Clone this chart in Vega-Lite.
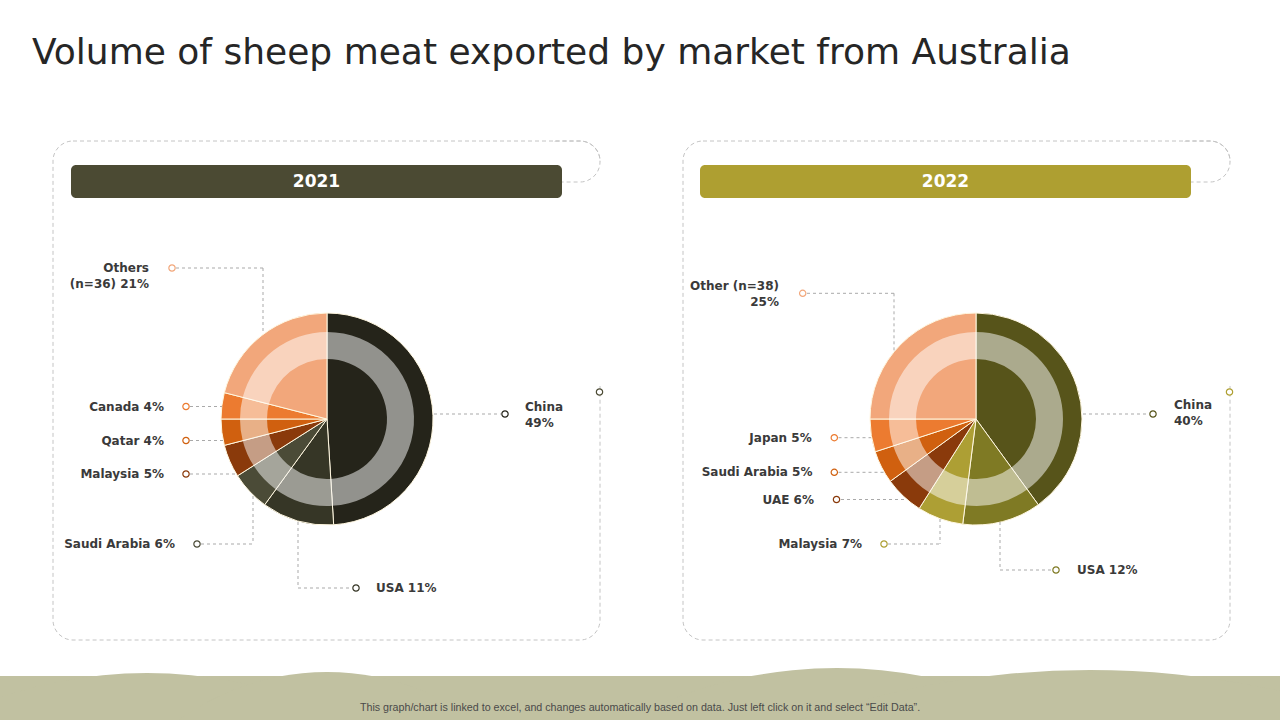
{
  "$schema": "https://vega.github.io/schema/vega-lite/v6.json",
  "width": 1280,
  "height": 720,
  "autosize": {"type": "none"},
  "padding": 0,
  "background": "white",
  "config": {
    "view": {"stroke": null},
    "text": {"font": "DejaVu Sans", "fontWeight": "bold", "fontSize": 12, "fill": "#3a3a3a", "lineBreak": "\n", "lineHeight": 16, "baseline": "middle"},
    "rule": {"stroke": "#a9a9a9", "strokeDash": [3, 3], "strokeWidth": 1},
    "point": {"shape": "circle", "filled": true, "fill": "white", "size": 40, "strokeWidth": 1.2, "opacity": 1}
  },
  "datasets": {
    "shares": [
      {"year": 2021, "market": "China", "share": 49, "rank": 1, "label": "China\n49%"},
      {"year": 2021, "market": "USA", "share": 11, "rank": 2, "label": "USA 11%"},
      {"year": 2021, "market": "Saudi Arabia", "share": 6, "rank": 3, "label": "Saudi Arabia 6%"},
      {"year": 2021, "market": "Malaysia", "share": 5, "rank": 4, "label": "Malaysia 5%"},
      {"year": 2021, "market": "Qatar", "share": 4, "rank": 5, "label": "Qatar 4%"},
      {"year": 2021, "market": "Canada", "share": 4, "rank": 6, "label": "Canada 4%"},
      {"year": 2021, "market": "Others (n=36)", "share": 21, "rank": 7, "label": "Others\n(n=36) 21%"},
      {"year": 2022, "market": "China", "share": 40, "rank": 1, "label": "China\n40%"},
      {"year": 2022, "market": "USA", "share": 12, "rank": 2, "label": "USA 12%"},
      {"year": 2022, "market": "Malaysia", "share": 7, "rank": 3, "label": "Malaysia 7%"},
      {"year": 2022, "market": "UAE", "share": 6, "rank": 4, "label": "UAE 6%"},
      {"year": 2022, "market": "Saudi Arabia", "share": 5, "rank": 5, "label": "Saudi Arabia 5%"},
      {"year": 2022, "market": "Japan", "share": 5, "rank": 6, "label": "Japan 5%"},
      {"year": 2022, "market": "Other (n=38)", "share": 25, "rank": 7, "label": "Other (n=38)\n25%"}
    ]
  },
  "data": {"name": "shares"},
  "resolve": {"scale": {"color": "independent", "theta": "independent"}},
  "layer": [
    {"data": {"values": [{}]}, "mark": {"type": "rect", "fill": "#c1c1a1"}, "encoding": {"x": {"value": 0}, "x2": {"value": 1280}, "y": {"value": 676}, "y2": {"value": 720}}},
    {"data": {"values": [{}]}, "mark": {"type": "arc", "x": 147, "y": 1125, "outerRadius": 452, "fill": "#c1c1a1"}, "encoding": {}},
    {"data": {"values": [{}]}, "mark": {"type": "arc", "x": 327, "y": 924.5, "outerRadius": 252.5, "fill": "#c1c1a1"}, "encoding": {}},
    {"data": {"values": [{}]}, "mark": {"type": "arc", "x": 837, "y": 1122.5, "outerRadius": 454.5, "fill": "#c1c1a1"}, "encoding": {}},
    {"data": {"values": [{}]}, "mark": {"type": "arc", "x": 1090, "y": 1537.8, "outerRadius": 867.8, "fill": "#c1c1a1"}, "encoding": {}},
    {"data": {"values": [{}]}, "mark": {"type": "text", "text": "This graph/chart is linked to excel, and changes automatically based on data. Just left click on it and select “Edit Data”.", "font": "Liberation Sans", "fontWeight": "normal", "fontSize": 10.7, "fill": "#4a4a4a", "align": "center", "baseline": "middle"}, "encoding": {"x": {"value": 640}, "y": {"value": 708}}},
    {"data": {"values": [{}]}, "mark": {"type": "text", "text": "Volume of sheep meat exported by market from Australia", "font": "DejaVu Sans", "fontWeight": "normal", "fontSize": 36, "fill": "#262626", "align": "left", "baseline": "alphabetic"}, "encoding": {"x": {"value": 32}, "y": {"value": 64}}},

    {"data": {"values": [{}]}, "mark": {"type": "rect", "fill": "white", "fillOpacity": 0, "stroke": "#c4c4c4", "strokeDash": [4, 3], "strokeWidth": 1, "cornerRadius": 20}, "encoding": {"x": {"value": 53}, "x2": {"value": 600}, "y": {"value": 141}, "y2": {"value": 640}}},
    {"data": {"values": [{}]}, "mark": {"type": "rect", "fill": "white", "strokeWidth": 0}, "encoding": {"x": {"value": 594}, "x2": {"value": 607}, "y": {"value": 162}, "y2": {"value": 386}}},
    {"data": {"values": [{}]}, "mark": {"type": "rect", "fill": "white", "fillOpacity": 0, "stroke": "#c4c4c4", "strokeDash": [4, 3], "strokeWidth": 1, "cornerRadiusTopRight": 20, "cornerRadiusBottomRight": 20}, "encoding": {"x": {"value": 555}, "x2": {"value": 600}, "y": {"value": 141}, "y2": {"value": 182}}},
    {"data": {"values": [{}]}, "mark": {"type": "rect", "fill": "white", "strokeWidth": 0}, "encoding": {"x": {"value": 552}, "x2": {"value": 558}, "y": {"value": 142.6}, "y2": {"value": 164}}},
    {"data": {"values": [{}]}, "mark": {"type": "rect", "fill": "#4b4a33", "cornerRadius": 5}, "encoding": {"x": {"value": 71}, "x2": {"value": 562}, "y": {"value": 165}, "y2": {"value": 198}}},
    {"data": {"values": [{}]}, "mark": {"type": "text", "text": "2021", "fontSize": 17, "fill": "white", "align": "center"}, "encoding": {"x": {"value": 316.5}, "y": {"value": 182}}},
    {"data": {"values": [{}]}, "mark": {"type": "point", "stroke": "#4b4a33"}, "encoding": {"x": {"value": 599.5}, "y": {"value": 392}}},

    {"data": {"values": [{}]}, "mark": {"type": "rect", "fill": "white", "fillOpacity": 0, "stroke": "#c4c4c4", "strokeDash": [4, 3], "strokeWidth": 1, "cornerRadius": 20}, "encoding": {"x": {"value": 683}, "x2": {"value": 1230}, "y": {"value": 141}, "y2": {"value": 640}}},
    {"data": {"values": [{}]}, "mark": {"type": "rect", "fill": "white", "strokeWidth": 0}, "encoding": {"x": {"value": 1224}, "x2": {"value": 1237}, "y": {"value": 162}, "y2": {"value": 386}}},
    {"data": {"values": [{}]}, "mark": {"type": "rect", "fill": "white", "fillOpacity": 0, "stroke": "#c4c4c4", "strokeDash": [4, 3], "strokeWidth": 1, "cornerRadiusTopRight": 20, "cornerRadiusBottomRight": 20}, "encoding": {"x": {"value": 1185}, "x2": {"value": 1230}, "y": {"value": 141}, "y2": {"value": 182}}},
    {"data": {"values": [{}]}, "mark": {"type": "rect", "fill": "white", "strokeWidth": 0}, "encoding": {"x": {"value": 1182}, "x2": {"value": 1188}, "y": {"value": 142.6}, "y2": {"value": 164}}},
    {"data": {"values": [{}]}, "mark": {"type": "rect", "fill": "#ae9f31", "cornerRadius": 5}, "encoding": {"x": {"value": 700}, "x2": {"value": 1191}, "y": {"value": 165}, "y2": {"value": 198}}},
    {"data": {"values": [{}]}, "mark": {"type": "text", "text": "2022", "fontSize": 17, "fill": "white", "align": "center"}, "encoding": {"x": {"value": 945.5}, "y": {"value": 182}}},
    {"data": {"values": [{}]}, "mark": {"type": "point", "stroke": "#ae9f31"}, "encoding": {"x": {"value": 1229.5}, "y": {"value": 392}}},

    {"transform": [{"filter": "datum.year == 2021"}], "mark": {"type": "arc", "x": 327, "y": 419, "outerRadius": 106, "stroke": "#fff7e0", "strokeWidth": 1},
     "encoding": {"theta": {"field": "share", "type": "quantitative", "stack": true}, "order": {"field": "rank", "type": "quantitative"},
       "color": {"field": "market", "type": "nominal", "legend": null, "scale": {"domain": ["China", "USA", "Saudi Arabia", "Malaysia", "Qatar", "Canada", "Others (n=36)"], "range": ["#25241a", "#363626", "#4b4b37", "#8a3a0b", "#d0600f", "#ec7b30", "#f2a77b"]}}}},
    {"transform": [{"filter": "datum.year == 2021"}], "mark": {"type": "arc", "x": 327, "y": 419, "innerRadius": 60, "outerRadius": 87, "fill": "white", "fillOpacity": 0.5, "strokeWidth": 0},
     "encoding": {"theta": {"field": "share", "type": "quantitative", "stack": true}, "order": {"field": "rank", "type": "quantitative"}}},
    {"transform": [{"filter": "datum.year == 2022"}], "mark": {"type": "arc", "x": 976, "y": 419, "outerRadius": 106, "stroke": "#fff7e0", "strokeWidth": 1},
     "encoding": {"theta": {"field": "share", "type": "quantitative", "stack": true}, "order": {"field": "rank", "type": "quantitative"},
       "color": {"field": "market", "type": "nominal", "legend": null, "scale": {"domain": ["China", "USA", "Malaysia", "UAE", "Saudi Arabia", "Japan", "Other (n=38)"], "range": ["#57541a", "#7f7a24", "#ad9f34", "#8a3a0b", "#d0600f", "#ec7b30", "#f2a77b"]}}}},
    {"transform": [{"filter": "datum.year == 2022"}], "mark": {"type": "arc", "x": 976, "y": 419, "innerRadius": 60, "outerRadius": 87, "fill": "white", "fillOpacity": 0.5, "strokeWidth": 0},
     "encoding": {"theta": {"field": "share", "type": "quantitative", "stack": true}, "order": {"field": "rank", "type": "quantitative"}}},

    {"transform": [{"filter": "datum.year == 2021 && datum.market == 'China'"}], "layer": [
      {"mark": "rule", "encoding": {"x": {"value": 434}, "x2": {"value": 501}, "y": {"value": 414}}},
      {"mark": {"type": "point", "stroke": "#25241a"}, "encoding": {"x": {"value": 505}, "y": {"value": 414}}},
      {"mark": {"type": "text", "align": "left"}, "encoding": {"x": {"value": 525}, "y": {"value": 407}, "text": {"field": "label"}}}]},
    {"transform": [{"filter": "datum.year == 2021 && datum.market == 'USA'"}], "layer": [
      {"mark": "rule", "encoding": {"x": {"value": 298}, "x2": {"value": 352}, "y": {"value": 588}}},
      {"mark": "rule", "encoding": {"x": {"value": 298}, "y": {"value": 522}, "y2": {"value": 588}}},
      {"mark": {"type": "point", "stroke": "#363626"}, "encoding": {"x": {"value": 356}, "y": {"value": 588}}},
      {"mark": {"type": "text", "align": "left"}, "encoding": {"x": {"value": 376}, "y": {"value": 588}, "text": {"field": "label"}}}]},
    {"transform": [{"filter": "datum.year == 2021 && datum.market == 'Saudi Arabia'"}], "layer": [
      {"mark": "rule", "encoding": {"x": {"value": 201}, "x2": {"value": 253}, "y": {"value": 544}}},
      {"mark": "rule", "encoding": {"x": {"value": 253}, "y": {"value": 496}, "y2": {"value": 544}}},
      {"mark": {"type": "point", "stroke": "#4b4b37"}, "encoding": {"x": {"value": 197}, "y": {"value": 544}}},
      {"mark": {"type": "text", "align": "right"}, "encoding": {"x": {"value": 175}, "y": {"value": 544}, "text": {"field": "label"}}}]},
    {"transform": [{"filter": "datum.year == 2021 && datum.market == 'Malaysia'"}], "layer": [
      {"mark": "rule", "encoding": {"x": {"value": 190}, "x2": {"value": 236}, "y": {"value": 474}}},
      {"mark": {"type": "point", "stroke": "#8a3a0b"}, "encoding": {"x": {"value": 186}, "y": {"value": 474}}},
      {"mark": {"type": "text", "align": "right"}, "encoding": {"x": {"value": 164}, "y": {"value": 474}, "text": {"field": "label"}}}]},
    {"transform": [{"filter": "datum.year == 2021 && datum.market == 'Qatar'"}], "layer": [
      {"mark": "rule", "encoding": {"x": {"value": 190}, "x2": {"value": 223}, "y": {"value": 440.5}}},
      {"mark": {"type": "point", "stroke": "#d0600f"}, "encoding": {"x": {"value": 186}, "y": {"value": 440.5}}},
      {"mark": {"type": "text", "align": "right"}, "encoding": {"x": {"value": 164}, "y": {"value": 440.5}, "text": {"field": "label"}}}]},
    {"transform": [{"filter": "datum.year == 2021 && datum.market == 'Canada'"}], "layer": [
      {"mark": "rule", "encoding": {"x": {"value": 190}, "x2": {"value": 222}, "y": {"value": 406.5}}},
      {"mark": {"type": "point", "stroke": "#ec7b30"}, "encoding": {"x": {"value": 186}, "y": {"value": 406.5}}},
      {"mark": {"type": "text", "align": "right"}, "encoding": {"x": {"value": 164}, "y": {"value": 406.5}, "text": {"field": "label"}}}]},
    {"transform": [{"filter": "datum.year == 2021 && datum.market == 'Others (n=36)'"}], "layer": [
      {"mark": "rule", "encoding": {"x": {"value": 176}, "x2": {"value": 263}, "y": {"value": 268}}},
      {"mark": "rule", "encoding": {"x": {"value": 263}, "y": {"value": 268}, "y2": {"value": 334}}},
      {"mark": {"type": "point", "stroke": "#f2a77b"}, "encoding": {"x": {"value": 172}, "y": {"value": 268}}},
      {"mark": {"type": "text", "align": "right"}, "encoding": {"x": {"value": 149}, "y": {"value": 268}, "text": {"field": "label"}}}]},

    {"transform": [{"filter": "datum.year == 2022 && datum.market == 'China'"}], "layer": [
      {"mark": "rule", "encoding": {"x": {"value": 1083}, "x2": {"value": 1149}, "y": {"value": 414}}},
      {"mark": {"type": "point", "stroke": "#57541a"}, "encoding": {"x": {"value": 1153}, "y": {"value": 414}}},
      {"mark": {"type": "text", "align": "left"}, "encoding": {"x": {"value": 1174}, "y": {"value": 405}, "text": {"field": "label"}}}]},
    {"transform": [{"filter": "datum.year == 2022 && datum.market == 'USA'"}], "layer": [
      {"mark": "rule", "encoding": {"x": {"value": 1000}, "x2": {"value": 1052}, "y": {"value": 570}}},
      {"mark": "rule", "encoding": {"x": {"value": 1000}, "y": {"value": 522}, "y2": {"value": 570}}},
      {"mark": {"type": "point", "stroke": "#7f7a24"}, "encoding": {"x": {"value": 1056}, "y": {"value": 570}}},
      {"mark": {"type": "text", "align": "left"}, "encoding": {"x": {"value": 1077}, "y": {"value": 570}, "text": {"field": "label"}}}]},
    {"transform": [{"filter": "datum.year == 2022 && datum.market == 'Malaysia'"}], "layer": [
      {"mark": "rule", "encoding": {"x": {"value": 888}, "x2": {"value": 940}, "y": {"value": 544}}},
      {"mark": "rule", "encoding": {"x": {"value": 940}, "y": {"value": 519}, "y2": {"value": 544}}},
      {"mark": {"type": "point", "stroke": "#ad9f34"}, "encoding": {"x": {"value": 884}, "y": {"value": 544}}},
      {"mark": {"type": "text", "align": "right"}, "encoding": {"x": {"value": 862}, "y": {"value": 544}, "text": {"field": "label"}}}]},
    {"transform": [{"filter": "datum.year == 2022 && datum.market == 'UAE'"}], "layer": [
      {"mark": "rule", "encoding": {"x": {"value": 841}, "x2": {"value": 904}, "y": {"value": 499.5}}},
      {"mark": {"type": "point", "stroke": "#8a3a0b"}, "encoding": {"x": {"value": 836.5}, "y": {"value": 499.5}}},
      {"mark": {"type": "text", "align": "right"}, "encoding": {"x": {"value": 814}, "y": {"value": 499.5}, "text": {"field": "label"}}}]},
    {"transform": [{"filter": "datum.year == 2022 && datum.market == 'Saudi Arabia'"}], "layer": [
      {"mark": "rule", "encoding": {"x": {"value": 838.5}, "x2": {"value": 884}, "y": {"value": 472.3}}},
      {"mark": {"type": "point", "stroke": "#d0600f"}, "encoding": {"x": {"value": 834.3}, "y": {"value": 472.3}}},
      {"mark": {"type": "text", "align": "right"}, "encoding": {"x": {"value": 812.5}, "y": {"value": 472.3}, "text": {"field": "label"}}}]},
    {"transform": [{"filter": "datum.year == 2022 && datum.market == 'Japan'"}], "layer": [
      {"mark": "rule", "encoding": {"x": {"value": 838.5}, "x2": {"value": 871}, "y": {"value": 437.7}}},
      {"mark": {"type": "point", "stroke": "#ec7b30"}, "encoding": {"x": {"value": 834.3}, "y": {"value": 437.7}}},
      {"mark": {"type": "text", "align": "right"}, "encoding": {"x": {"value": 811.7}, "y": {"value": 437.7}, "text": {"field": "label"}}}]},
    {"transform": [{"filter": "datum.year == 2022 && datum.market == 'Other (n=38)'"}], "layer": [
      {"mark": "rule", "encoding": {"x": {"value": 807}, "x2": {"value": 894}, "y": {"value": 293.3}}},
      {"mark": "rule", "encoding": {"x": {"value": 894}, "y": {"value": 293.3}, "y2": {"value": 352}}},
      {"mark": {"type": "point", "stroke": "#f2a77b"}, "encoding": {"x": {"value": 802.7}, "y": {"value": 293.3}}},
      {"mark": {"type": "text", "align": "right"}, "encoding": {"x": {"value": 779}, "y": {"value": 286}, "text": {"field": "label"}}}]}
  ]
}
